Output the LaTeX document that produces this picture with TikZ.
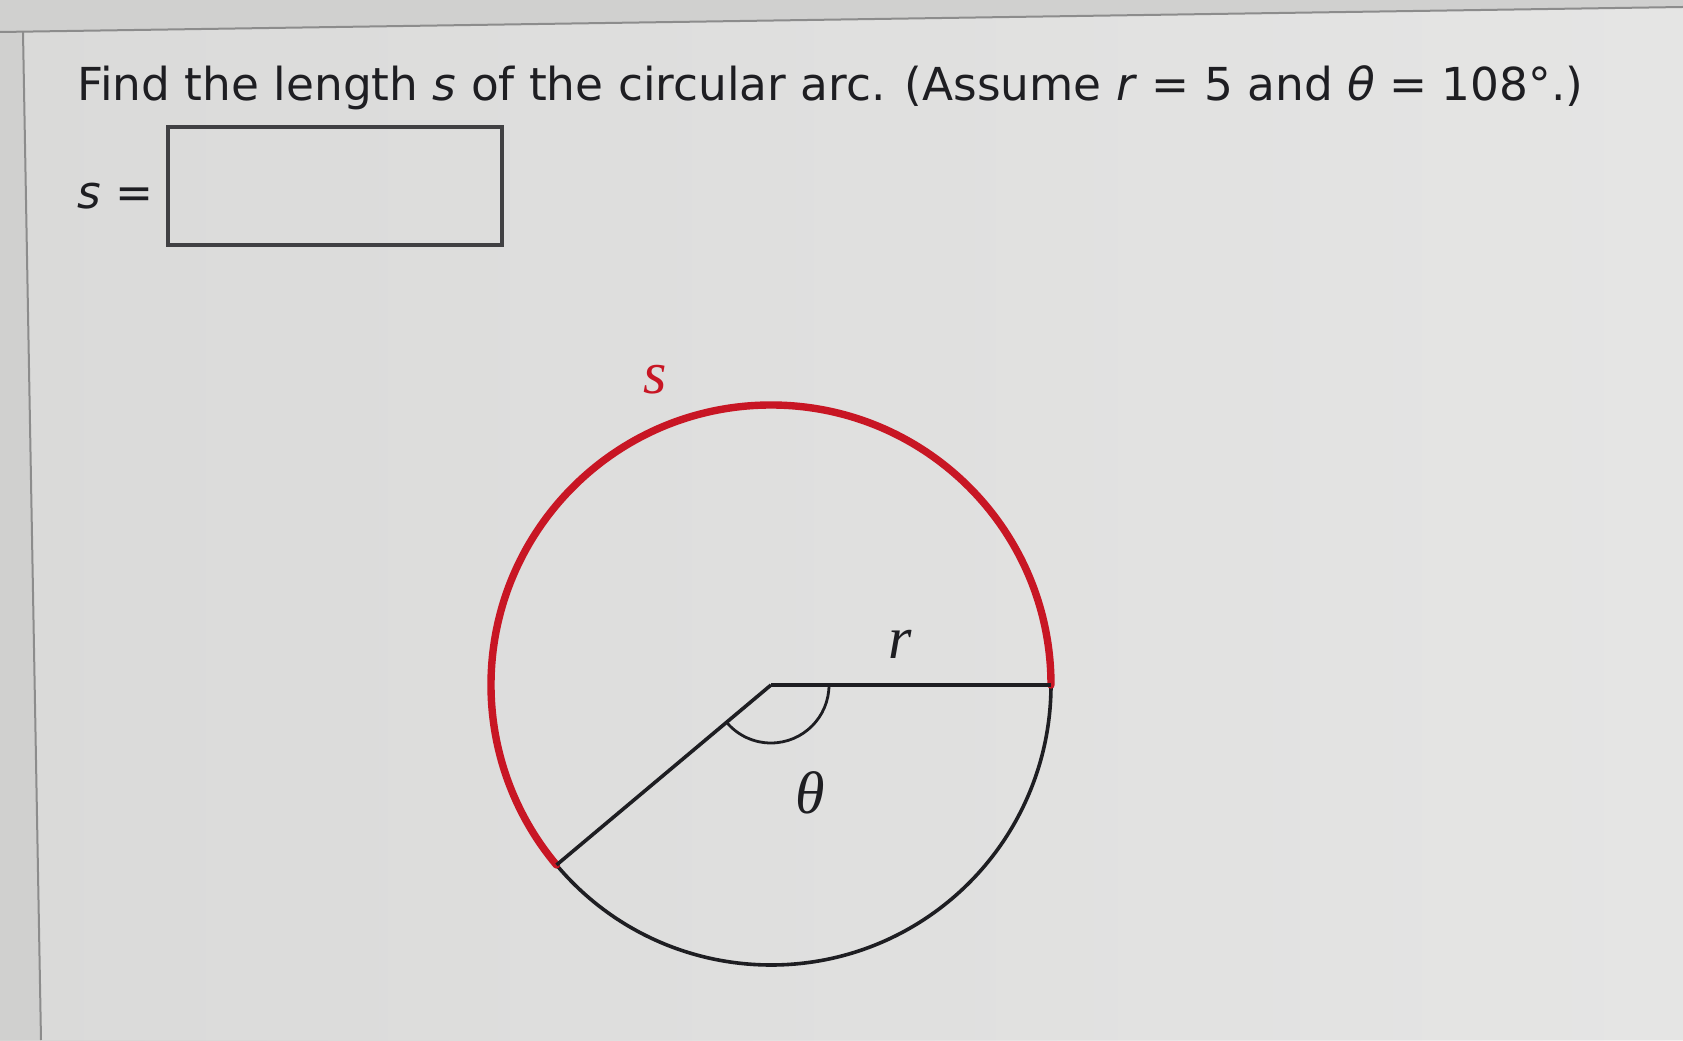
\documentclass[tikz,border=0pt]{standalone}
\usepackage{fontspec}
\usetikzlibrary{calc}
\setmainfont{DejaVu Sans}
\newfontfamily\lblfont{Liberation Serif}
\begin{document}
\begin{tikzpicture}[x=0.5pt,y=0.5pt,
  txt/.style={inner sep=0pt,text=ink,font=\fontsize{22.7pt}{26pt}\selectfont},
  lbl/.style={inner sep=0pt,font=\lblfont\itshape\fontsize{30pt}{34pt}\selectfont},
  blackline/.style={draw=ink,line width=1.8pt},
  redline/.style={draw=arcred,line width=3.7pt},
  frameline/.style={draw=framegray,line width=1pt}]
\definecolor{bgmain}{RGB}{222,222,221}
\definecolor{bgdark}{RGB}{208,208,207}
\definecolor{ink}{RGB}{30,30,34}
\definecolor{arcred}{RGB}{200,22,36}
\definecolor{framegray}{RGB}{140,140,140}
\useasboundingbox (0,0) rectangle (1683,1040);
% background
\shade[left color=bgmain!96!black, right color=bgmain!40!white!95!bgmain] (0,0) rectangle (1683,1040);
\fill[bgmain,opacity=0.6] (0,0) rectangle (1683,1040);
\fill[bgdark] (0,0) -- (41,0) -- (23,1008) -- (1683,1033) -- (1683,1040) -- (0,1040) -- cycle;
\draw[frameline] (0,1008) -- (1683,1033);
\draw[frameline] (23,1008) -- (41,0);
% title
\node[txt,anchor=base west] (title) at (77,939) {Find the length \textit{s} of the circular arc. (Assume \textit{r} = 5 and \textit{θ} = 108°.)};
\node[txt,anchor=base west] (slabel) at (77,831) {\textit{s} =};
\node[draw=ink!85,line width=1.8pt,minimum width=167pt,minimum height=59pt,inner sep=0pt] (box) at (335,854) {};
% circle
\coordinate (O) at (771,355);
\coordinate (A) at ($(O)+(0:280)$);
\coordinate (B) at ($(O)+(220:280)$);
\draw[blackline] (B) arc[start angle=220,end angle=360,radius=280];
\draw[redline,line cap=round] (A) arc[start angle=0,end angle=220,radius=280];
\draw[blackline] (O) -- (A);
\draw[blackline] (O) -- (B);
\draw[draw=ink,line width=1.4pt] ($(O)+(0:58)$) arc[start angle=0,end angle=-140,radius=58];
\node[lbl,text=ink] (rlab) at (900,396) {r};
\node[lbl,text=ink] (thlab) at (810,247) {θ};
\node[lbl,text=arcred] (slab) at (655,660) {s};
\end{tikzpicture}
\end{document}
